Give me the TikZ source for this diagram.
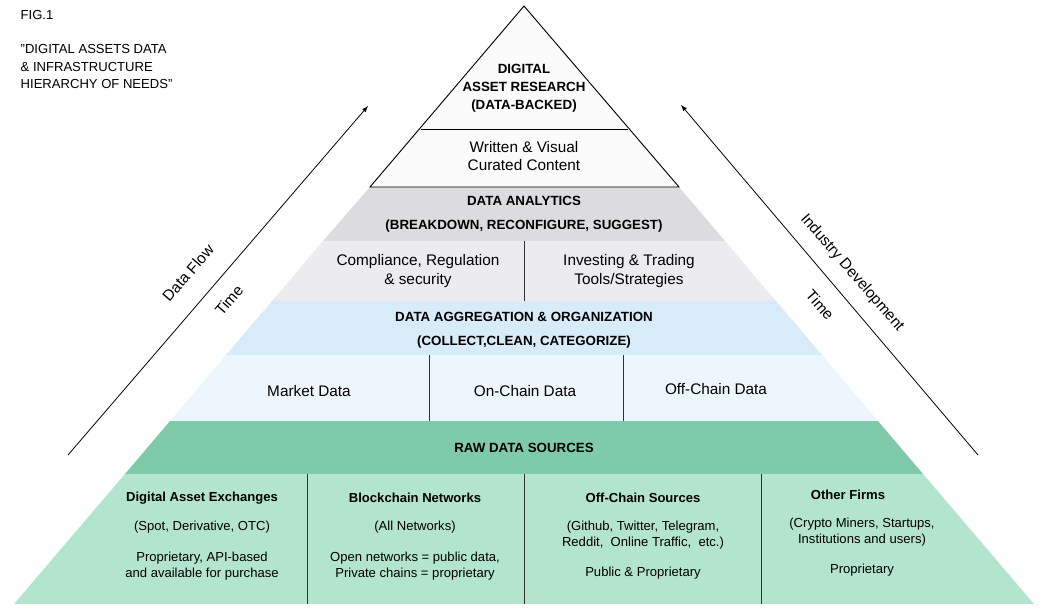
\documentclass[tikz,border=0pt]{standalone}
\usepackage{fontspec}
\setmainfont{Liberation Sans}
\begin{document}
\begin{tikzpicture}[x=0.75pt,y=-0.75pt,
  lbl/.style={font=\fontsize{11.5}{14}\selectfont,align=center},
  hdr/.style={font=\fontsize{10}{13}\selectfont\bfseries,align=center},
  sm/.style={font=\fontsize{9.8}{11.5}\selectfont,align=center},
  smb/.style={font=\fontsize{9.8}{11.5}\selectfont\bfseries,align=center},
  div/.style={draw=black!80,line width=0.6pt},
  arr/.style={draw=black,line width=0.6pt,-latex}]
\useasboundingbox (0,0) rectangle (1063,611);
\definecolor{cAna}{HTML}{DCDCDE}
\definecolor{cComp}{HTML}{ECECEE}
\definecolor{cAgg}{HTML}{D8EBF8}
\definecolor{cMkt}{HTML}{EDF6FC}
\definecolor{cRaw}{HTML}{7FCAA8}
\definecolor{cBot}{HTML}{B3E4CE}
\fill[cAna] (370,187) -- (679,187) -- (725,241) -- (323,241) -- cycle;
\fill[cComp] (323,241) -- (725,241) -- (776,301) -- (272,301) -- cycle;
\fill[cAgg] (272,301) -- (776,301) -- (822,355) -- (226,355) -- cycle;
\fill[cMkt] (226,355) -- (822,355) -- (878,421) -- (170,421) -- cycle;
\fill[cRaw] (170,421) -- (878,421) -- (923,474) -- (125,474) -- cycle;
\fill[cBot] (125,474) -- (923,474) -- (1034,604) -- (14,604) -- cycle;
\fill[white!97!gray] (524,6) -- (679,187) -- (370,187) -- cycle;
\draw[line width=0.7pt] (524,6) -- (679,187) -- (370,187) -- cycle;
\draw[line width=0.7pt] (421,129) -- (628,129);
\draw[div] (524,241) -- (524,301);
\draw[div] (429,355) -- (429,421);
\draw[div] (623,355) -- (623,421);
\draw[div] (307,474) -- (307,604);
\draw[div] (524,474) -- (524,604);
\draw[div] (761,474) -- (761,604);
\coordinate (la) at (68,455); \coordinate (lb) at (368,106);
\coordinate (ra) at (978,455); \coordinate (rb) at (681,105);
\draw[arr] (la) -- (lb);
\draw[arr] (ra) -- (rb);
\node[lbl,rotate=49,inner sep=0pt] (df) at (188,273) {Data Flow};
\node[lbl,rotate=49,inner sep=0pt] (t1) at (229,300) {Time};
\node[lbl,rotate=-49,inner sep=0pt] (id) at (852,273) {Industry Development};
\node[lbl,rotate=-49,inner sep=0pt] (t2) at (820,305) {Time};
\node[sm,anchor=north west,align=left] (fig) at (16,6) {FIG.1};
\node[sm,anchor=north west,align=left,font=\fontsize{9.8}{13}\selectfont] (ttl) at (16,40) {"DIGITAL ASSETS DATA\\\& INFRASTRUCTURE\\HIERARCHY OF NEEDS"};
\node[hdr,font=\fontsize{10}{13.5}\selectfont\bfseries] (dar) at (524,88) {DIGITAL\\ASSET RESEARCH\\(DATA-BACKED)};
\node[lbl] (wvc) at (524,156) {Written \& Visual\\Curated Content};
\node[hdr] (ana) at (524,214) {DATA ANALYTICS\\[5pt](BREAKDOWN, RECONFIGURE, SUGGEST)};
\node[lbl] (comp) at (418,271) {Compliance, Regulation\\\& security};
\node[lbl] (inv) at (629,271) {Investing \& Trading\\Tools/Strategies};
\node[hdr] (agg) at (524,330) {DATA AGGREGATION \& ORGANIZATION\\[5pt](COLLECT,CLEAN, CATEGORIZE)};
\node[lbl] (mkt) at (309,391) {Market Data};
\node[lbl] (onc) at (525,391) {On-Chain Data};
\node[lbl] (ofc) at (716,389) {Off-Chain Data};
\node[hdr] (raw) at (524,448) {RAW DATA SOURCES};
\node[smb] (h1) at (202,498) {Digital Asset Exchanges};
\node[sm] (s1) at (202,527) {(Spot, Derivative, OTC)};
\node[sm] (p1) at (202,566) {Proprietary, API-based\\and available for purchase};
\node[smb] (h2) at (415,498) {Blockchain Networks};
\node[sm] (s2) at (415,527) {(All Networks)};
\node[sm] (p2) at (415,566) {Open networks = public data,\\Private chains = proprietary};
\node[smb] (h3) at (643,498) {Off-Chain Sources};
\node[sm] (s3) at (643,535) {(Github, Twitter, Telegram,\\Reddit,\ \ Online Traffic,\ \ etc.)};
\node[sm] (p3) at (643,573) {Public \& Proprietary};
\node[smb] (h4) at (848,495) {Other Firms};
\node[sm] (s4) at (862,532) {(Crypto Miners, Startups,\\Institutions and users)};
\node[sm] (p4) at (862,570) {Proprietary};
\end{tikzpicture}
\end{document}
